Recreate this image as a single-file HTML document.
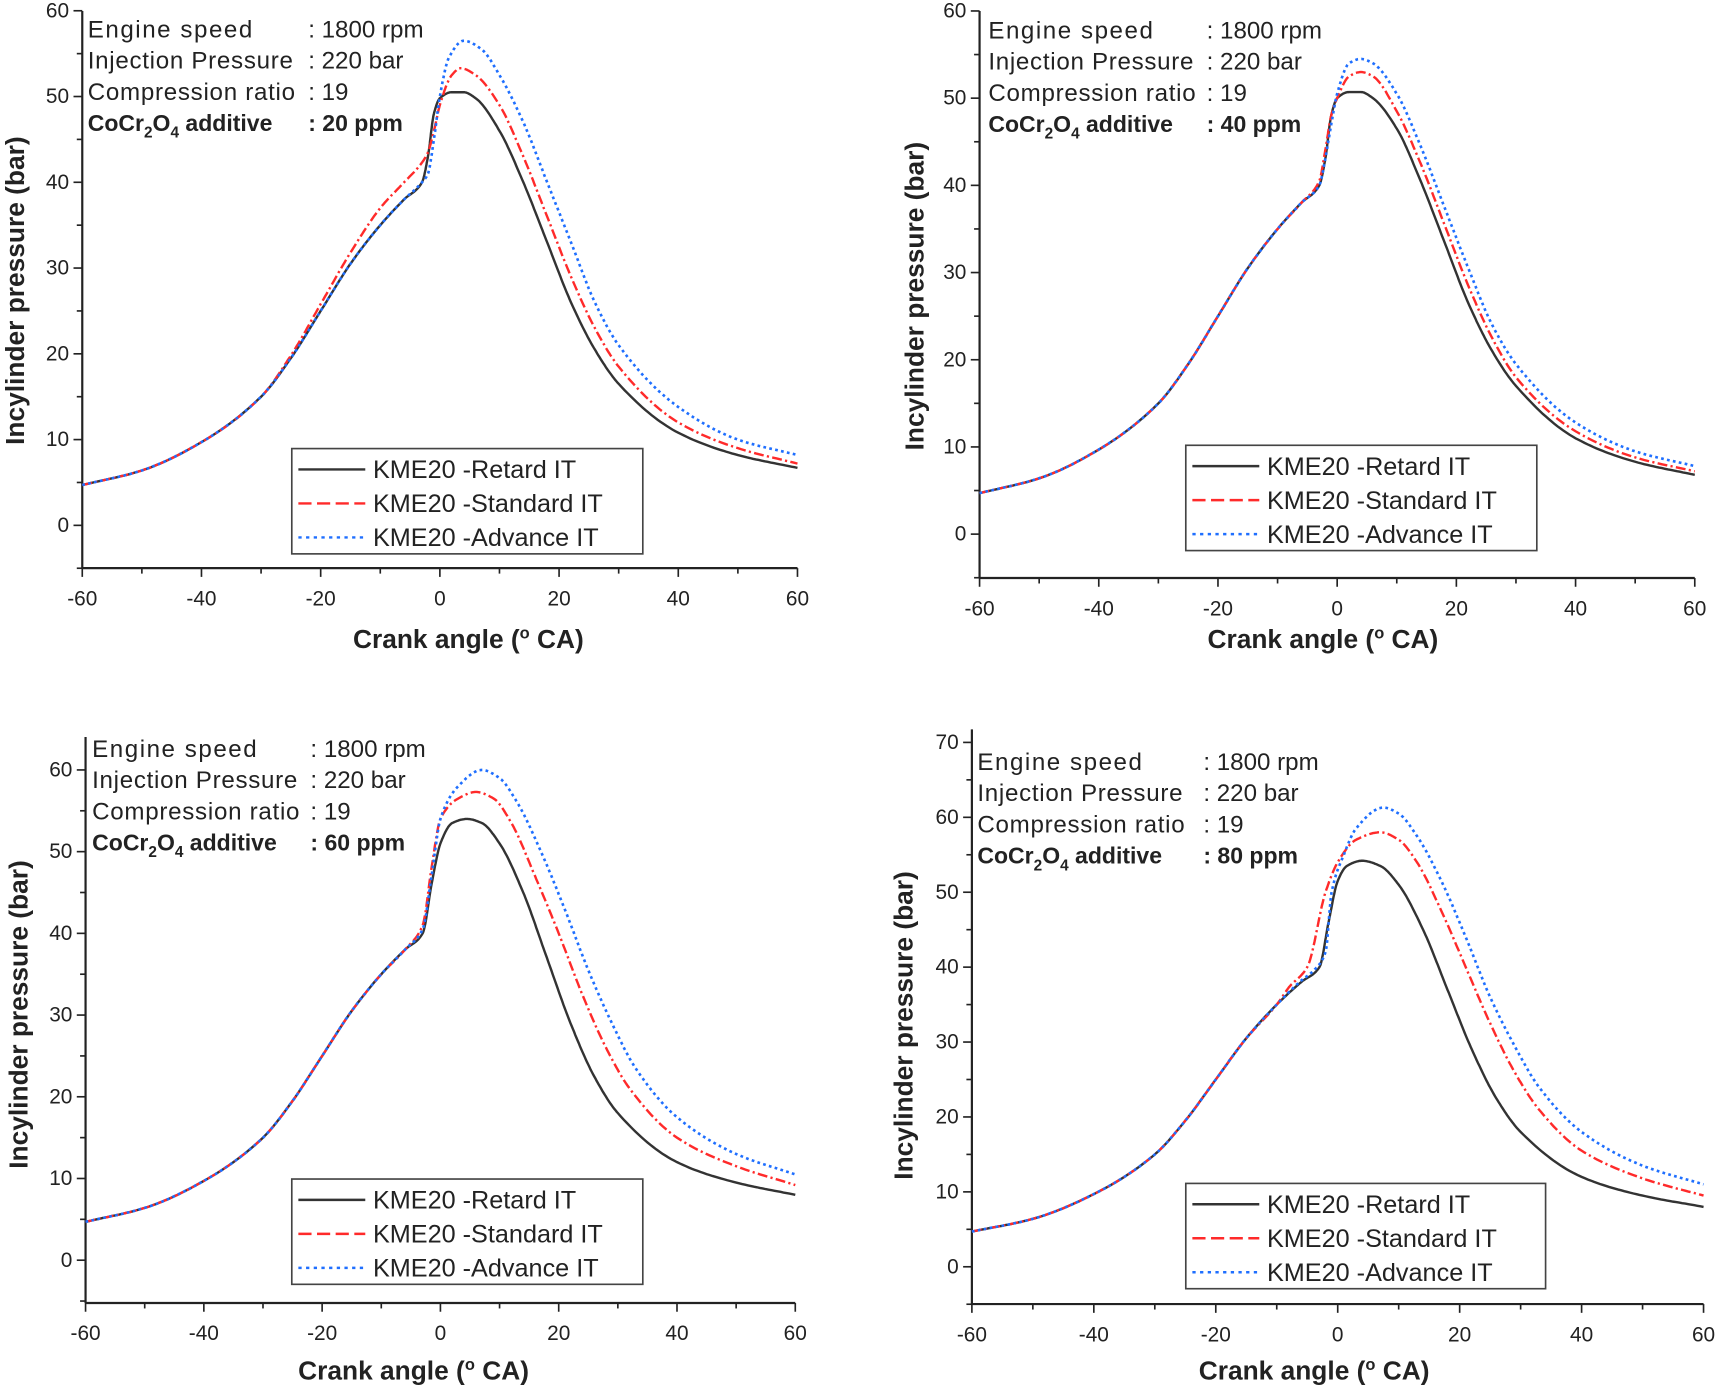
<!DOCTYPE html>
<html><head><meta charset="utf-8"><style>
html,body{margin:0;padding:0;background:#fff}
svg{display:block}
text{font-family:"Liberation Sans",Arial,sans-serif;fill:#222}
</style></head><body>
<svg id="s" width="1720" height="1394" viewBox="0 0 1568 1271" preserveAspectRatio="none" xmlns="http://www.w3.org/2000/svg"></svg>
<script>
const S=document.getElementById('s');let h='';
function interp(k){
  const n=k.length,xs=k.map(p=>p[0]),ys=k.map(p=>p[1]);
  const d=[],m=[];
  for(let i=0;i<n-1;i++)d.push((ys[i+1]-ys[i])/(xs[i+1]-xs[i]));
  m[0]=d[0];m[n-1]=d[n-2];
  for(let i=1;i<n-1;i++){ if(d[i-1]*d[i]<=0)m[i]=0; else { const w1=2*(xs[i+1]-xs[i])+(xs[i]-xs[i-1]),w2=(xs[i+1]-xs[i])+2*(xs[i]-xs[i-1]); m[i]=(w1+w2)/(w1/d[i-1]+w2/d[i]); } }
  const pts=[];
  for(let i=0;i<n-1;i++){const hh=xs[i+1]-xs[i];
    for(let t=0;t<1;t+=0.05){const t2=t*t,t3=t2*t;
      const y=(2*t3-3*t2+1)*ys[i]+(t3-2*t2+t)*hh*m[i]+(-2*t3+3*t2)*ys[i+1]+(t3-t2)*hh*m[i+1];
      pts.push([xs[i]+t*hh,y]);}}
  pts.push(k[n-1]);return pts;
}
const pre=[[-60,4.7],[-50,6.4],[-40,9.7],[-30,15],[-25,19.5],[-20,25],[-15,30.5],[-10,35],[-6,38]];
function panel(P){
  const X=v=>P.x0+(v+60)/120*(P.x1-P.x0), Y=v=>P.y0-v*P.k;
  h+=`<line x1="${P.x0}" y1="${P.top}" x2="${P.x0}" y2="${P.bot}" stroke="#222" stroke-width="2"/>`;
  h+=`<line x1="${P.x0}" y1="${P.bot}" x2="${P.x1}" y2="${P.bot}" stroke="#222" stroke-width="2"/>`;
  for(let v=-60;v<=60;v+=10){const x=X(v),M=v%20==0;h+=`<line x1="${x}" y1="${P.bot}" x2="${x}" y2="${P.bot+(M?8:5)}" stroke="#222" stroke-width="1.5"/>`;
    if(M)h+=`<text x="${x}" y="${P.bot+34}" font-size="19" text-anchor="middle">${v}</text>`;}
  for(let v=-5;v<=P.max;v+=5){const y=Y(v),M=v%10==0;h+=`<line x1="${P.x0}" y1="${y}" x2="${P.x0-(M?8:5)}" y2="${y}" stroke="#222" stroke-width="1.5"/>`;
    if(M)h+=`<text x="${P.x0-12}" y="${y+6}" font-size="19" text-anchor="end">${v}</text>`;}
  h+=`<text x="${P.xt[0]}" y="${P.xt[1]}" font-size="24" font-weight="bold" text-anchor="middle">Crank angle (<tspan font-size="15" dy="-9">o</tspan><tspan dy="9"> CA)</tspan></text>`;
  h+=`<text transform="translate(${P.yt[0]},${P.yt[1]}) rotate(-90)" font-size="24" font-weight="bold" text-anchor="middle">Incylinder pressure (bar)</text>`;
  const st=[['#333','none',2.2],['#ff2a2a','9,3,2,3',2.2],['#1f6fff','2.5,3',2.4]];
  P.c.forEach((c,i)=>{const pts=interp(pre.filter(p=>p[0]<c[0][0]).concat(c));
    h+=`<path d="M${pts.map(p=>X(p[0]).toFixed(1)+','+Y(p[1]).toFixed(1)).join('L')}" fill="none" stroke="${st[i][0]}" stroke-dasharray="${st[i][1]}" stroke-width="${st[i][2]}"/>`;});
  const a=P.an,lbl=['Engine speed','Injection Pressure','Compression ratio'],val=[': 1800 rpm',': 220 bar',': 19'];
  for(let i=0;i<3;i++){h+=`<text x="${a[0]}" y="${a[1]+i*28.5}" font-size="22" textLength="${[150,187,189][i]}">${lbl[i]}</text><text x="${a[2]}" y="${a[1]+i*28.5}" font-size="22">${val[i]}</text>`;}
  h+=`<text x="${a[0]}" y="${a[1]+85.5}" font-size="21" font-weight="bold">CoCr<tspan font-size="14" dy="6">2</tspan><tspan dy="-6">O</tspan><tspan font-size="14" dy="6">4</tspan><tspan dy="-6"> additive</tspan></text><text x="${a[2]}" y="${a[1]+85.5}" font-size="21" font-weight="bold">: ${P.ppm} ppm</text>`;
  const L=P.lg;h+=`<rect x="${L[0]}" y="${L[1]}" width="${L[2]}" height="96" fill="#fff" stroke="#444" stroke-width="1.5"/>`;
  const names=['KME20 -Retard IT','KME20 -Standard IT','KME20 -Advance IT'],ld=['none','12,5','3,4'];
  for(let i=0;i<3;i++){const y=L[1]+19+i*31;h+=`<line x1="${L[0]+6}" y1="${y}" x2="${L[0]+67}" y2="${y}" stroke="${st[i][0]}" stroke-width="2.2" stroke-dasharray="${ld[i]}"/><text x="${L[0]+74}" y="${y+8}" font-size="23">${names[i]}</text>`;}
}
panel({x0:75,x1:727,y0:479,k:7.82,top:10,bot:518,max:60,xt:[427,591],yt:[22,265],an:[80,34,281],ppm:20,lg:[266,409,320],
 c:[[[-3,40],[-2,43],[-1,48],[0,49.8],[2,50.5],[4,50.5],[6,49.8],[10,46],[14,40],[18,33],[22,26],[26,20.5],[30,16.5],[40,10.8],[50,8.2],[60,6.7]],
    [[-25,19.8],[-20,25.8],[-15,31.8],[-10,37],[-6,40],[-3,42.3],[-2,43.5],[-1,46],[0,49],[2,52.5],[3.5,53.3],[6,52.5],[10,49],[14,43],[18,36],[22,29],[26,23],[30,18.5],[40,12],[50,9],[60,7.2]],
    [[-3,40],[-2,41],[-1,45],[0,50],[1.5,54.5],[4,56.5],[7,55.5],[10,52.5],[14,47],[18,40],[22,33],[26,26],[30,21],[40,13.8],[50,10],[60,8.2]]]});
panel({x0:893,x1:1545,y0:487,k:7.95,top:10,bot:527,max:60,xt:[1206,591],yt:[842,270],an:[901,35,1100],ppm:40,lg:[1081,406,320],
 c:[[[-3,40],[-2,43],[-1,48],[0,50],[2,50.7],[4,50.7],[6,50],[10,46.5],[14,40.5],[18,33.5],[22,26.5],[26,21],[30,17],[40,11],[50,8.3],[60,6.8]],
    [[-3,40.5],[-2,44],[-1,48],[0,50],[2,52.5],[4,53],[6,52.5],[10,48.5],[14,42.5],[18,35.5],[22,28.5],[26,22.5],[30,18],[40,11.8],[50,8.8],[60,7.2]],
    [[-3,40],[-2,43],[-1,47],[0,50.5],[2,54],[4,54.5],[6,54],[10,50.5],[14,44.5],[18,37.5],[22,30.5],[26,24],[30,19.5],[40,12.8],[50,9.5],[60,7.8]]]});
panel({x0:78,x1:725,y0:1149,k:7.45,top:672,bot:1188,max:60,xt:[377,1258],yt:[25,925],an:[84,690,283],ppm:60,lg:[266,1075,320],
 c:[[[-3,40],[-1.5,46],[0,51],[2,53.5],[4.5,54],[7,53.5],[10,51],[14,45],[18,37],[22,29],[26,22.5],[30,18],[40,12],[50,9.5],[60,8]],
    [[-3,41],[-1.5,48],[0,54],[3,56.5],[6,57.3],[9,56.5],[12,53.5],[16,47],[20,40],[24,32.5],[28,26],[32,21],[40,15],[50,11.5],[60,9.2]],
    [[-3,40.5],[-1.5,47],[0,54],[3,58],[7,60],[10,59],[13,56],[17,50],[21,43],[25,35.5],[29,29],[33,23.5],[40,17.5],[50,13],[60,10.5]]]});
panel({x0:886,x1:1553,y0:1155,k:6.83,top:665,bot:1189,max:70,xt:[1198,1258],yt:[832,935],an:[891,702,1097],ppm:80,lg:[1081,1079,328],
 c:[[[-3,40],[-1.5,46],[0,51.5],[1.5,53.5],[4,54.2],[7,53.5],[10,51],[14,45],[18,37],[22,29],[26,22.5],[30,18],[40,12],[50,9.5],[60,8]],
    [[-8,37.3],[-5,40],[-2,50],[0,54],[3,57],[7,58],[10,57],[13,54],[17,47.5],[21,40],[25,32.5],[29,26],[33,21],[40,15.5],[50,11.8],[60,9.5]],
    [[-6,38.2],[-4,39.5],[-2,42],[-1,50],[1,55],[3,58.5],[7.5,61.3],[10,60.5],[13,57.5],[17,51.5],[21,44],[25,36],[29,29.5],[33,24],[40,18],[50,13.5],[60,11]]]});
S.innerHTML=h;
</script>
</body></html>
